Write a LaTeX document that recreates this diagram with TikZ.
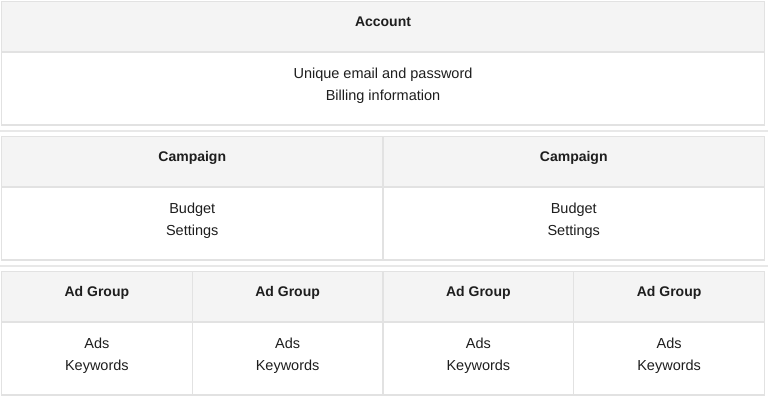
\documentclass[tikz,border=0pt]{standalone}
\usepackage{fontspec}
\setmainfont{Liberation Sans}
\usetikzlibrary{positioning}

\definecolor{gridline}{HTML}{E2E2E2}
\definecolor{headfill}{HTML}{F4F4F4}
\definecolor{textdark}{HTML}{1E1E1E}

\tikzset{
    cellhead/.style={draw=gridline, fill=headfill, line width=1.3pt, outer sep=0pt, inner sep=0pt,
        minimum height=50.5pt, font=\fontsize{14}{22}\selectfont\bfseries, text=textdark,
        text height=5pt, text depth=5pt},
    cellbody/.style={draw=gridline, fill=white, line width=1.3pt, outer sep=0pt, inner sep=0pt,
        minimum height=73pt, font=\fontsize{14.5}{22}\selectfont, text=textdark, align=center,
        text height=29.5pt, text depth=5pt},
    rule/.style={draw=gridline!80, line width=1.6pt}
}

\begin{document}
\begin{tikzpicture}[x=1pt, y=-1pt]
    \useasboundingbox (0,0) rectangle (768,400);

    % account
    \node[cellhead, minimum width=763pt, anchor=north west] (acchead) at (1.5,1.5) {Account};
    \node[cellbody, minimum width=763pt] (accbody) [below=0pt of acchead] {Unique email and password\\Billing information};

    \coordinate (rule1w) at (0,130.75);
    \coordinate (rule1e) at (768,130.75);
    \draw[rule] (rule1w) -- (rule1e);

    % campaigns
    \node[cellhead, minimum width=381.5pt, anchor=north west] (camphead1) at (1.5,136.5) {Campaign};
    \node[cellhead, minimum width=381.5pt] (camphead2) [right=0pt of camphead1] {Campaign};
    \node[cellbody, minimum width=381.5pt] (campbody1) [below=0pt of camphead1] {Budget\\Settings};
    \node[cellbody, minimum width=381.5pt] (campbody2) [below=0pt of camphead2] {Budget\\Settings};

    \coordinate (rule2w) at (0,265.75);
    \coordinate (rule2e) at (768,265.75);
    \draw[rule] (rule2w) -- (rule2e);

    % ad groups
    \node[cellhead, minimum width=190.75pt, anchor=north west] (adhead1) at (1.5,271.5) {Ad Group};
    \node[cellhead, minimum width=190.75pt] (adhead2) [right=0pt of adhead1] {Ad Group};
    \node[cellhead, minimum width=190.75pt] (adhead3) [right=0pt of adhead2] {Ad Group};
    \node[cellhead, minimum width=190.75pt] (adhead4) [right=0pt of adhead3] {Ad Group};
    \node[cellbody, minimum width=190.75pt] (adbody1) [below=0pt of adhead1] {Ads\\Keywords};
    \node[cellbody, minimum width=190.75pt] (adbody2) [below=0pt of adhead2] {Ads\\Keywords};
    \node[cellbody, minimum width=190.75pt] (adbody3) [below=0pt of adhead3] {Ads\\Keywords};
    \node[cellbody, minimum width=190.75pt] (adbody4) [below=0pt of adhead4] {Ads\\Keywords};
\end{tikzpicture}
\end{document}
